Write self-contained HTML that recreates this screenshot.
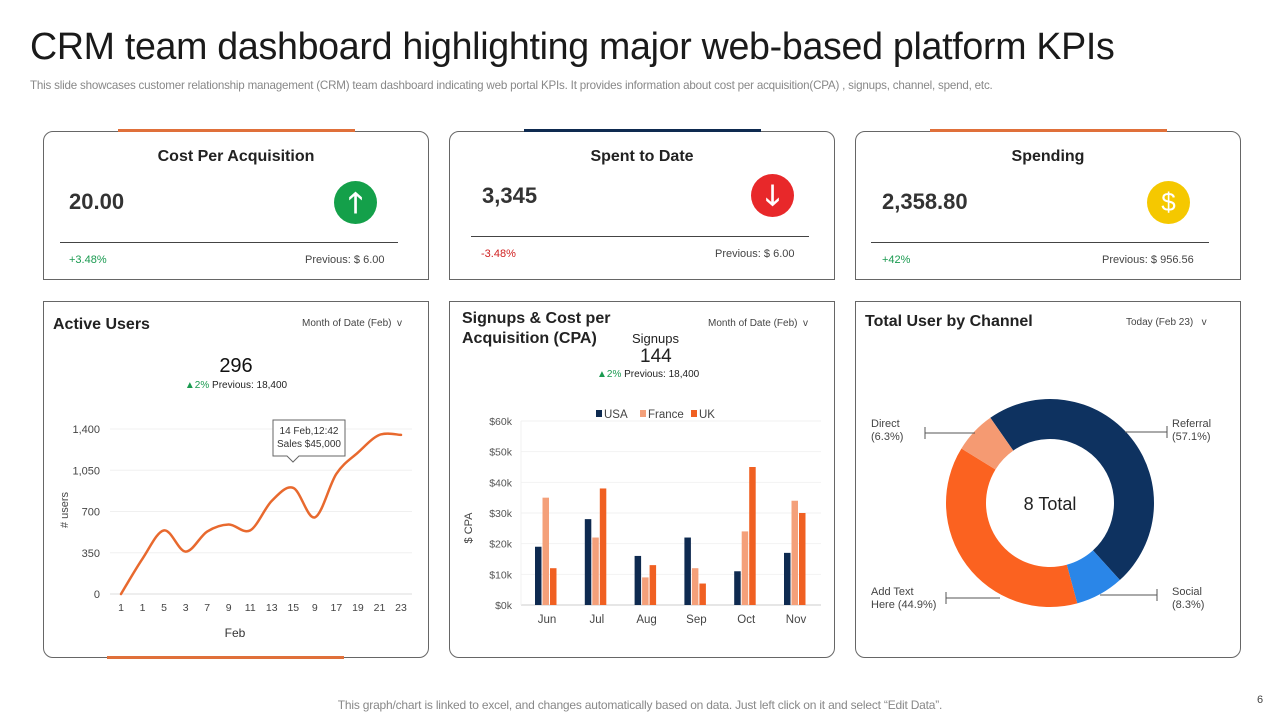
<!DOCTYPE html>
<html><head><meta charset="utf-8"><style>
*{margin:0;padding:0;box-sizing:border-box}
body{width:1280px;height:720px;background:#fff;position:relative;overflow:hidden;font-family:"Liberation Sans",sans-serif;color:#222}
.abs{position:absolute}
.card{position:absolute;border:1px solid #666;background:#fff}
.top{border-radius:10px 10px 0 0}
.bot{border-radius:0 0 10px 10px}
.ct{position:absolute;font-weight:bold;font-size:16px;color:#222;font-family:"Liberation Sans Narrow","Liberation Sans",sans-serif}
.sm{font-size:10px;color:#444}
</style></head><body>
<div class="abs" style="left:30px;top:25px;font-size:37.6px;color:#1a1a1a;letter-spacing:-0.3px">CRM team dashboard highlighting major web-based platform KPIs</div>
<div class="abs" style="left:30px;top:79px;font-size:11.6px;color:#888;letter-spacing:-0.2px">This slide showcases customer relationship management (CRM) team dashboard indicating web portal KPIs. It provides information about cost per acquisition(CPA) , signups, channel, spend, etc.</div>

<!-- KPI cards -->
<div class="card top" style="left:43px;top:131px;width:386px;height:149px"></div>
<div class="abs" style="left:118px;top:129px;width:237px;height:3px;background:#e0703a"></div>
<div class="ct" style="left:43px;width:386px;text-align:center;top:148px">Cost Per Acquisition</div>
<div class="abs" style="left:69px;top:189px;font-size:22px;font-weight:bold;color:#333">20.00</div>
<div class="abs" style="left:334px;top:181px;width:43px;height:43px;border-radius:50%;background:#14a04a;color:#fff;text-align:center;font-size:28px;line-height:43px;font-weight:bold">🡑</div>
<div class="abs" style="left:60px;top:242px;width:338px;height:1px;background:#444"></div>
<div class="abs sm" style="left:69px;top:254px;font-size:11px;color:#1a9a50">+3.48%</div>
<div class="abs sm" style="left:305px;top:254px;font-size:11px">Previous: $ 6.00</div>

<div class="card top" style="left:449px;top:131px;width:386px;height:149px"></div>
<div class="abs" style="left:524px;top:129px;width:237px;height:3px;background:#0e2a50"></div>
<div class="ct" style="left:449px;width:386px;text-align:center;top:148px">Spent to Date</div>
<div class="abs" style="left:482px;top:183px;font-size:22px;font-weight:bold;color:#333">3,345</div>
<div class="abs" style="left:751px;top:174px;width:43px;height:43px;border-radius:50%;background:#e8282a;color:#fff;text-align:center;font-size:28px;line-height:43px;font-weight:bold">🡓</div>
<div class="abs" style="left:471px;top:236px;width:338px;height:1px;background:#444"></div>
<div class="abs sm" style="left:481px;top:248px;font-size:11px;color:#d02020">-3.48%</div>
<div class="abs sm" style="left:715px;top:248px;font-size:11px">Previous: $ 6.00</div>

<div class="card top" style="left:855px;top:131px;width:386px;height:149px"></div>
<div class="abs" style="left:930px;top:129px;width:237px;height:3px;background:#e0703a"></div>
<div class="ct" style="left:855px;width:386px;text-align:center;top:148px">Spending</div>
<div class="abs" style="left:882px;top:189px;font-size:22px;font-weight:bold;color:#333">2,358.80</div>
<div class="abs" style="left:1147px;top:181px;width:43px;height:43px;border-radius:50%;background:#f5c800;color:#fff;text-align:center;font-size:26px;line-height:43px">$</div>
<div class="abs" style="left:871px;top:242px;width:338px;height:1px;background:#444"></div>
<div class="abs sm" style="left:882px;top:254px;font-size:11px;color:#1a9a50">+42%</div>
<div class="abs sm" style="left:1102px;top:254px;font-size:11px">Previous: $ 956.56</div>

<!-- Bottom cards -->
<div class="card bot" style="left:43px;top:301px;width:386px;height:357px"></div>
<div class="abs" style="left:107px;top:656px;width:237px;height:3px;background:#e0703a"></div>
<div class="card bot" style="left:449px;top:301px;width:386px;height:357px"></div>
<div class="card bot" style="left:855px;top:301px;width:386px;height:357px"></div>

<div class="ct" style="left:53px;top:316px">Active Users</div>
<div class="abs sm" style="left:302px;top:318px">Month of Date (Feb) &nbsp;v</div>
<div class="abs" style="left:43px;width:386px;text-align:center;top:355px;font-size:20px;color:#111">296</div>
<div class="abs sm" style="left:43px;width:386px;text-align:center;top:380px;color:#222"><span style="color:#1a9a50">▲2%</span> Previous: 18,400</div>

<div class="ct" style="left:462px;top:309px;line-height:20px">Signups &amp; Cost per<br>Acquisition (CPA)</div>
<div class="abs sm" style="left:708px;top:318px">Month of Date (Feb) &nbsp;v</div>
<div class="abs" style="left:632px;top:331px;font-size:13px;color:#222">Signups</div>
<div class="abs" style="left:640px;top:346px;font-size:19px;color:#222">144</div>
<div class="abs sm" style="left:597px;top:369px;color:#222"><span style="color:#1a9a50">▲2%</span> Previous: 18,400</div>

<div class="ct" style="left:865px;top:313px">Total User by Channel</div>
<div class="abs sm" style="left:1126px;top:317px">Today (Feb 23) &nbsp;&nbsp;v</div>

<svg class="abs" style="left:0;top:0" width="1280" height="720" id="svg"></svg>

<div class="abs" style="left:0;width:1280px;text-align:center;top:698px;font-size:12px;color:#888;letter-spacing:-0.2px">This graph/chart is linked to excel, and changes automatically based on data. Just left click on it and select “Edit Data”.</div>
<div class="abs" style="left:1257px;top:694px;font-size:11px;color:#444">6</div>

<script>
// Active users line
const lineLabels = ["1","1","5","3","7","9","11","13","15","9","17","19","21","23"];
const lineValues = [0,300,540,360,530,590,540,790,900,650,1020,1200,1350,1350];
const lineTicks = [0,350,700,1050,1400];
const lineTickLabels = ["0","350","700","1,050","1,400"];
// Bar chart
const barCats = ["Jun","Jul","Aug","Sep","Oct","Nov"];
const usa = [19,28,16,22,11,17];
const france = [35,22,9,12,24,34];
const uk = [12,38,13,7,45,30];
const barTicks = [0,10,20,30,40,50,60];
const barTickLabels = ["$0k","$10k","$20k","$30k","$40k","$50k","$60k"];
// Donut
const donutNames = ["Referral","Social","Add Text Here","Direct"];
const donutValues = [48,7.5,38,6.5];
const donutLabels = ["Referral\n(57.1%)","Social\n(8.3%)","Add Text\nHere (44.9%)","Direct\n(6.3%)"];

const NS="http://www.w3.org/2000/svg";
const svg=document.getElementById('svg');
function mk(tag,attrs,name){const e=document.createElementNS(NS,tag);for(const k in attrs)e.setAttribute(k,attrs[k]);


svg.appendChild(e);return e;}
function txt(x,y,s,attrs,name){const t=mk('text',Object.assign({x:x,y:y,'font-family':'Liberation Sans, sans-serif','font-size':11,fill:'#444'},attrs||{}),name);t.textContent=s;return t;}

// line chart
const lx=i=>121+i*(401-121)/(lineValues.length-1);
const ly=v=>594-v*(594-429)/1400;
lineTicks.forEach((t,i)=>{mk('line',{x1:110,x2:412,y1:ly(t),y2:ly(t),stroke:i?'#f0f0f0':'#ddd'},'line-gridline');txt(100,ly(t)+4,lineTickLabels[i],{'text-anchor':'end'},'y-tick-label');});
lineLabels.forEach((l,i)=>txt(lx(i),611,l,{'text-anchor':'middle','font-size':10.5},'x-tick-label'));
txt(235,637,"Feb",{'text-anchor':'middle','font-size':12,fill:'#333'},'x-axis-title');
txt(0,0,"# users",{transform:'translate(68,510) rotate(-90)','text-anchor':'middle','font-size':11},'y-axis-title');
let d='';const P=lineValues.map((v,i)=>[lx(i),ly(v)]);
d='M'+P[0][0]+','+P[0][1];
for(let i=0;i<P.length-1;i++){const p0=P[i-1]||P[i],p1=P[i],p2=P[i+1],p3=P[i+2]||p2;
d+=` C${p1[0]+(p2[0]-p0[0])/6},${p1[1]+(p2[1]-p0[1])/6} ${p2[0]-(p3[0]-p1[0])/6},${p2[1]-(p3[1]-p1[1])/6} ${p2[0]},${p2[1]}`;}
mk('path',{d:d,fill:'none',stroke:'#e8692e','stroke-width':2.5,'stroke-linecap':'round'},'active-users-line');
mk('path',{d:'M273,420 H345 V456 H299 L293,462 L287,456 H273 Z',fill:'#fff',stroke:'#666'},'tooltip-box');
txt(309,434,"14 Feb,12:42",{'text-anchor':'middle','font-size':10,fill:'#333'},'tooltip-line1');
txt(309,447,"Sales $45,000",{'text-anchor':'middle','font-size':10,fill:'#333'},'tooltip-line2');

// bar chart
const by=v=>605-v*(605-421)/60;
const bx=i=>547+i*49.8;
barTicks.forEach((t,i)=>{mk('line',{x1:521,x2:821,y1:by(t),y2:by(t),stroke:i?'#f2f2f2':'#ccc'},'bar-gridline');txt(512,by(t)+4,barTickLabels[i],{'text-anchor':'end','font-size':10.5,fill:'#555'},'bar-y-tick');});
mk('line',{x1:521,x2:521,y1:421,y2:605,stroke:'#f0f0f0'},'bar-y-axis');
const series=[[usa,'#0e2a50',-12],[france,'#f4a07a',-4.5],[uk,'#f06022',3]];
barCats.forEach((c,i)=>{txt(bx(i),623,c,{'text-anchor':'middle','font-size':11.5,fill:'#444'},'bar-x-label');
series.forEach(s=>mk('rect',{x:bx(i)+s[2],y:by(s[0][i]),width:6.5,height:605-by(s[0][i]),fill:s[1]},'bar'));});
txt(0,0,"$ CPA",{transform:'translate(472,528) rotate(-90)','text-anchor':'middle','font-size':11},'bar-y-axis-title');
[['USA','#0e2a50',596],['France','#f4a07a',640],['UK','#f06022',691]].forEach(l=>{mk('rect',{x:l[2],y:410,width:6,height:7,fill:l[1]},'legend-swatch');txt(l[2]+8,418,l[0],{'font-size':11.5},'legend-entry');});

// donut
const cx=1050,cy=503,R=104,r=64,cols=['#0e3260','#2a86e8','#fb6220','#f59a72'];
const tot=donutValues.reduce((a,b)=>a+b,0);let ang=-35;
donutValues.forEach((v,i)=>{const a0=ang*Math.PI/180,a1=(ang+v/tot*360)*Math.PI/180;ang+=v/tot*360;
const pt=(rad,a)=>[cx+rad*Math.sin(a),cy-rad*Math.cos(a)];const lg=(a1-a0)>Math.PI?1:0;
const A=pt(R,a0),B=pt(R,a1),C=pt(r,a1),D=pt(r,a0);
mk('path',{d:`M${A} A${R},${R} 0 ${lg} 1 ${B} L${C} A${r},${r} 0 ${lg} 0 ${D} Z`,fill:cols[i]},'donut-slice-'+donutNames[i].toLowerCase().replace(/ /g,'-'));});
txt(cx,510,"8 Total",{'text-anchor':'middle','font-size':18,fill:'#222'},'donut-center-label');
const lp=[[1172,427,'start',1167,1125,432],[1172,595,'start',1157,1100,595],[871,595,'start',946,1000,598],[871,427,'start',925,975,433]];
donutLabels.forEach((l,i)=>{const p=lp[i];const ls=l.split('\n');
txt(p[0],p[1],ls[0],{'text-anchor':p[2],'font-size':11},'donut-label');txt(p[0],p[1]+13,ls[1],{'text-anchor':p[2],'font-size':11},'donut-label');
mk('line',{x1:p[3],x2:p[4],y1:p[5],y2:p[5],stroke:'#555'},'donut-leader');mk('line',{x1:p[3],x2:p[3],y1:p[5]-6,y2:p[5]+6,stroke:'#555'},'donut-leader-tick');});
</script>
</body></html>
